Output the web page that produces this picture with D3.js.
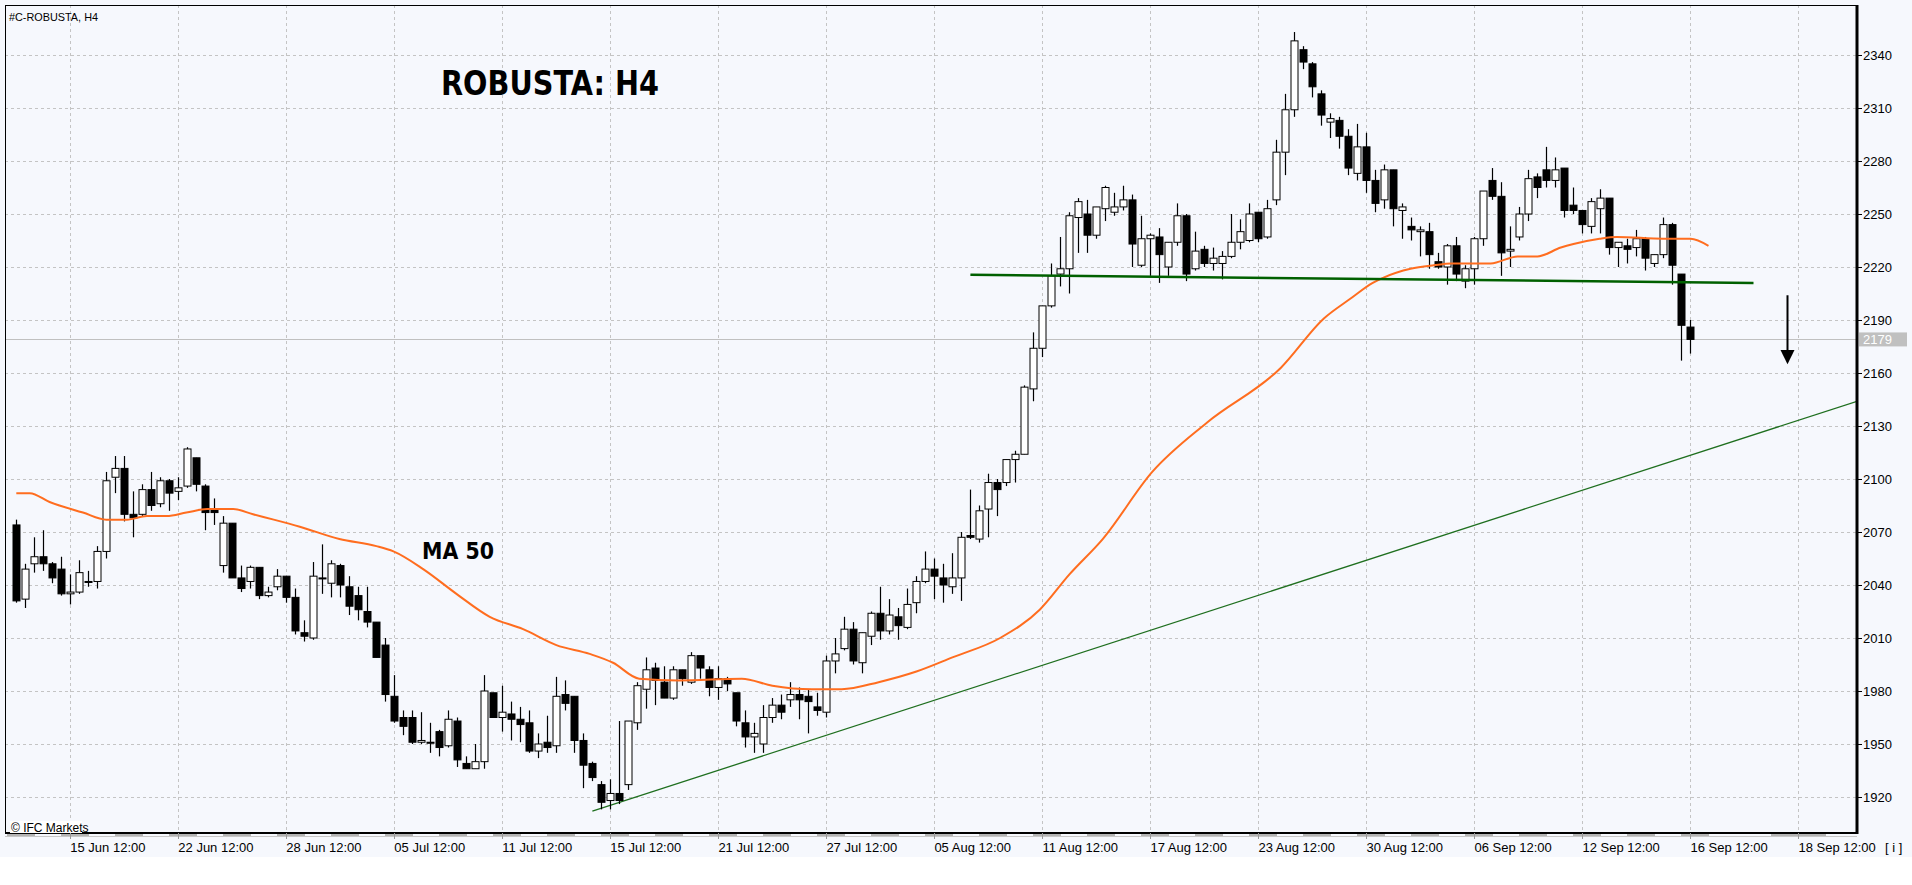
<!DOCTYPE html>
<html><head><meta charset="utf-8">
<script src="https://cdn.jsdelivr.net/npm/d3@7"></script>
<style>body{margin:0;background:#fff}svg{display:block}</style>
</head><body><svg id="c" width="1912" height="885"></svg>
<script>
const opens=[2074,2032,2052,2056,2052,2049,2035,2036,2042,2042,2059,2101,2106,2080,2080,2094,2086,2099,2093,2096,2112,2096,2083,2051,2075,2044,2042,2050,2034,2039,2045,2033,2013,2010,2044,2041,2051,2039,2034,2025,2019,2006,1977,1965,1965,1951,1951,1957,1949,1963,1939,1936,1940,1979,1965,1967,1964,1962,1946,1951,1949,1978,1977,1952,1939,1927,1918,1922,1927,1962,1981,1993,1985,1976,1992,1985,2000,1992,1982,1987,1979,1962,1954,1950,1965,1972,1975,1978,1977,1971,1968,1997,2004,2015,1996,2011,2024,2014,2022,2016,2030,2042,2049,2044,2039,2044,2068,2066,2083,2098,2098,2111,2114,2151,2174,2198,2216,2219,2248,2250,2238,2253,2251,2254,2258,2221,2236,2237,2220,2234,2249,2219,2230,2222,2222,2226,2234,2235,2251,2237,2258,2285,2309,2343,2335,2318,2302,2303,2294,2273,2288,2269,2258,2275,2252,2243,2240,2240,2223,2220,2232,2212,2219,2236,2269,2260,2229,2237,2250,2271,2275,2269,2276,2255,2252,2243,2253,2259,2231,2232,2231,2236,2222,2227,2244,2216,2186];
const highs=[2077,2052,2067,2071,2053,2056,2046,2054,2048,2062,2104,2113,2113,2093,2097,2104,2101,2100,2101,2118,2112,2097,2089,2079,2075,2051,2051,2050,2039,2049,2045,2038,2020,2053,2063,2054,2052,2045,2039,2039,2019,2010,1989,1969,1969,1968,1962,1958,1969,1965,1943,1950,1989,1979,1983,1974,1971,1969,1956,1966,1988,1986,1977,1956,1940,1929,1930,1963,1963,1985,1999,1996,1994,1994,1992,2002,2000,1994,1994,1988,1979,1969,1962,1972,1976,1978,1985,1982,1981,1979,2000,2010,2022,2019,2013,2025,2039,2032,2027,2038,2045,2059,2055,2052,2058,2070,2094,2085,2103,2100,2111,2116,2153,2183,2198,2222,2237,2251,2259,2258,2254,2266,2262,2266,2261,2249,2239,2242,2234,2256,2250,2240,2232,2231,2229,2250,2247,2256,2251,2258,2292,2318,2353,2345,2336,2320,2307,2305,2298,2301,2296,2275,2278,2275,2256,2248,2243,2245,2228,2233,2237,2221,2237,2263,2276,2268,2243,2254,2275,2273,2288,2282,2276,2265,2252,2259,2264,2259,2234,2236,2241,2237,2227,2248,2245,2216,2190];
const lows=[2030,2027,2047,2048,2041,2034,2029,2035,2039,2038,2055,2092,2076,2067,2079,2082,2084,2082,2088,2095,2093,2071,2074,2047,2044,2036,2038,2032,2033,2037,2030,2012,2008,2009,2035,2033,2033,2023,2020,2016,1999,1974,1962,1955,1950,1950,1945,1943,1948,1937,1936,1936,1936,1965,1957,1952,1951,1945,1942,1945,1945,1969,1945,1925,1929,1913,1913,1916,1924,1958,1970,1972,1976,1975,1983,1984,1987,1977,1975,1980,1960,1948,1945,1945,1962,1964,1971,1964,1956,1966,1965,1990,2003,1995,1990,2006,2009,2012,2009,2015,2024,2041,2032,2030,2035,2031,2066,2064,2067,2079,2096,2098,2114,2144,2169,2197,2209,2205,2228,2228,2236,2246,2249,2252,2220,2220,2215,2211,2215,2232,2212,2218,2220,2218,2213,2225,2230,2234,2234,2236,2255,2272,2305,2332,2316,2300,2293,2287,2272,2269,2262,2251,2253,2243,2236,2235,2226,2219,2219,2210,2212,2208,2210,2232,2258,2215,2220,2235,2246,2259,2265,2265,2248,2250,2239,2239,2239,2227,2220,2222,2226,2218,2220,2225,2210,2167,2171];
const closes=[2031,2049,2056,2052,2044,2035,2036,2047,2042,2059,2099,2106,2080,2078,2094,2085,2099,2092,2095,2117,2097,2081,2081,2075,2044,2038,2050,2034,2036,2045,2033,2014,2011,2045,2044,2052,2040,2028,2026,2019,1999,1978,1963,1960,1951,1952,1951,1948,1964,1941,1936,1940,1980,1965,1968,1964,1961,1946,1950,1948,1977,1973,1952,1938,1931,1917,1922,1918,1963,1983,1992,1986,1976,1992,1987,2000,1993,1982,1987,1984,1963,1954,1956,1965,1972,1968,1978,1975,1974,1969,1997,2001,2015,1997,2013,2024,2014,2023,2017,2029,2042,2049,2045,2040,2044,2067,2067,2082,2098,2094,2111,2114,2152,2174,2198,2215,2219,2249,2257,2238,2254,2265,2254,2258,2233,2236,2238,2227,2234,2249,2216,2229,2222,2225,2226,2234,2240,2250,2236,2253,2285,2309,2348,2336,2322,2306,2304,2294,2276,2288,2269,2256,2275,2253,2254,2241,2241,2227,2220,2232,2216,2219,2236,2263,2260,2228,2230,2250,2270,2265,2269,2275,2252,2252,2244,2257,2259,2231,2234,2230,2236,2225,2227,2244,2221,2187,2179];
// MA 50: bar index, value
const maIdx=[0,1.5,3.7,7.4,10,12.3,14.5,16.7,18.9,21.2,22.6,24.1,26.3,28.6,31.5,35.9,40,41.9,45.2,48.9,52.6,56.3,60,63.7,66.3,69.2,73.6,80.6,84,88.4,91.7,95.8,100,104,109.3,113.7,117,120.7,126.2,132.3,140.5,145.3,148.2,150.7,151.9,154.9,157.5,159.4,163.8,166.8,169,171.6,173,175.9,177.8,183,186,188];
const maVal=[2092,2092,2087,2081,2077,2077,2079,2079,2081,2083,2083,2083,2080,2077,2073,2066,2062,2059,2049,2035,2022,2015,2006,2001,1996,1987,1986,1987,1983,1981,1981,1985,1991,1999,2010,2026,2046,2066,2104,2132,2163,2191,2202,2211,2214,2219,2221,2222,2222,2226,2226,2231,2233,2236,2237,2236,2236,2232];
const supportIdx=[106,193], supportVal=[2215.6,2211];
const trendIdx=[64,204.5], trendVal=[1912,2144];
const priceTicks=[1920,1950,1980,2010,2040,2070,2100,2130,2160,2190,2220,2250,2280,2310,2340];
const dateLabels=["15 Jun 12:00","22 Jun 12:00","28 Jun 12:00","05 Jul 12:00","11 Jul 12:00","15 Jul 12:00","21 Jul 12:00","27 Jul 12:00","05 Aug 12:00","11 Aug 12:00","17 Aug 12:00","23 Aug 12:00","30 Aug 12:00","06 Sep 12:00","12 Sep 12:00","16 Sep 12:00","18 Sep 12:00"];
const dateIdx=dateLabels.map((d,i)=>6+12*i);
const lastPrice=2179;

const svg=d3.select("#c");
const L=5,R=1857,T=5,B=833;
const x=d3.scaleLinear().domain([-1.2556,204.5]).range([L,R]);
const y=d3.scaleLinear().domain([1920,2340]).range([797,55]);
const font="'Liberation Sans', Arial, sans-serif";
svg.append("rect").attr("width",1912).attr("height",857).attr("fill","#f6f8fd");
const clip=svg.append("defs").append("clipPath").attr("id","pc").append("rect").attr("x",L).attr("y",T).attr("width",R-L).attr("height",B-T);
// grid
const g=svg.append("g");
g.selectAll(".hg").data(priceTicks).join("line").attr("x1",L).attr("x2",R).attr("y1",d=>Math.round(y(d))+.5).attr("y2",d=>Math.round(y(d))+.5).attr("stroke","#c4c4c4").attr("stroke-dasharray","3,3");
g.selectAll(".vg").data(dateIdx).join("line").attr("x1",d=>Math.round(x(d))+.5).attr("x2",d=>Math.round(x(d))+.5).attr("y1",T).attr("y2",B).attr("stroke","#c4c4c4").attr("stroke-dasharray","3,3");
// current price line
svg.append("line").attr("x1",L).attr("x2",R).attr("y1",Math.round(y(lastPrice))+.5).attr("y2",Math.round(y(lastPrice))+.5).attr("stroke","#c0c0c0");
// day strip
const strip=svg.append("g");
for(let k=0;k<=31;k++){strip.append("rect").attr("x",7+54*k).attr("y",B).attr("width",28).attr("height",3).attr("fill","#b4b4b4");}
strip.append("rect").attr("x",1771).attr("y",B).attr("width",55).attr("height",3).attr("fill","#b4b4b4");
svg.append("line").attr("x1",L).attr("x2",R).attr("y1",B+3.5).attr("y2",B+3.5).attr("stroke","#c8c8c8");
const pg=svg.append("g").attr("clip-path","url(#pc)");
// trend line
const ln=d3.line().x(d=>x(d[0])).y(d=>y(d[1]));
pg.append("path").attr("d",ln(trendIdx.map((d,i)=>[d,trendVal[i]]))).attr("stroke","#1f6f1f").attr("stroke-width",1.3).attr("fill","none");
// candles
const idx=d3.range(opens.length);
const cg=pg.append("g");
cg.selectAll(".w").data(idx).join("line").attr("x1",i=>Math.round(x(i))+.5).attr("x2",i=>Math.round(x(i))+.5).attr("y1",i=>y(highs[i])).attr("y2",i=>y(lows[i])).attr("stroke","#000").attr("stroke-width",1.2);
cg.selectAll(".b").data(idx).join("rect").attr("x",i=>Math.round(x(i))-3).attr("width",7)
 .attr("y",i=>y(Math.max(opens[i],closes[i]))).attr("height",i=>Math.max(1,Math.abs(y(opens[i])-y(closes[i]))))
 .attr("fill",i=>closes[i]>opens[i]?"#fff":"#000").attr("stroke","#000").attr("stroke-width",1);
// MA
pg.append("path").attr("d",d3.line().curve(d3.curveMonotoneX).x(d=>x(d[0])).y(d=>y(d[1]))(maIdx.map((d,i)=>[d,maVal[i]]))).attr("stroke","#ff6d1f").attr("stroke-width",2).attr("fill","none");
// support
pg.append("path").attr("d",ln(supportIdx.map((d,i)=>[d,supportVal[i]]))).attr("stroke","#006000").attr("stroke-width",2.5).attr("fill","none");
// arrow
const ax=Math.round(x(196.7))+.5;
svg.append("line").attr("x1",ax).attr("x2",ax).attr("y1",y(2204)).attr("y2",y(2172)).attr("stroke","#000").attr("stroke-width",2);
svg.append("path").attr("d",`M${ax-7},${y(2173)}L${ax+7},${y(2173)}L${ax},${y(2165)}Z`).attr("fill","#000");
// frame
svg.append("line").attr("x1",L).attr("x2",R).attr("y1",T+.5).attr("y2",T+.5).attr("stroke","#000");
svg.append("line").attr("x1",L+.5).attr("x2",L+.5).attr("y1",T).attr("y2",B).attr("stroke","#000");
svg.append("line").attr("x1",L).attr("x2",R+1).attr("y1",B).attr("y2",B).attr("stroke","#000").attr("stroke-width",2);
svg.append("line").attr("x1",R).attr("x2",R).attr("y1",T).attr("y2",B+1).attr("stroke","#000").attr("stroke-width",3);
// y axis labels
const ya=svg.append("g");
ya.selectAll("line").data(priceTicks).join("line").attr("x1",R).attr("x2",R+5).attr("y1",d=>Math.round(y(d))+.5).attr("y2",d=>Math.round(y(d))+.5).attr("stroke","#000");
ya.selectAll("text").data(priceTicks).join("text").attr("x",R+6).attr("y",d=>y(d)+5).text(d=>d).attr("font-family",font).attr("font-size",13).attr("fill","#000");
svg.append("rect").attr("x",R+2).attr("y",y(lastPrice)-7).attr("width",48).attr("height",14).attr("fill","#c0c0c0");
svg.append("text").attr("x",R+6).attr("y",y(lastPrice)+5).text(lastPrice).attr("font-family",font).attr("font-size",13).attr("fill","#fff");
// x axis labels
const xa=svg.append("g");
xa.selectAll("line").data(dateIdx).join("line").attr("x1",d=>Math.round(x(d))+.5).attr("x2",d=>Math.round(x(d))+.5).attr("y1",B).attr("y2",B+6).attr("stroke","#999");
xa.selectAll("text").data(dateIdx).join("text").attr("x",d=>x(d)).attr("y",852).text((d,i)=>dateLabels[i]).attr("font-family",font).attr("font-size",13).attr("fill","#000");
svg.append("text").attr("x",1885).attr("y",852).text("[ i ]").attr("font-family",font).attr("font-size",13).attr("fill","#000");
// texts
svg.append("text").attr("x",9).attr("y",21).text("#C-ROBUSTA, H4").attr("font-family",font).attr("font-size",11).attr("textLength",89).attr("lengthAdjust","spacingAndGlyphs");
svg.append("rect").attr("x",10).attr("y",821).attr("width",72).attr("height",12).attr("fill","#fff");
svg.append("text").attr("x",11).attr("y",832).text("© IFC Markets").attr("font-family",font).attr("font-size",12).attr("fill","#000");
svg.append("text").attr("x",441).attr("y",95).text("ROBUSTA: H4").attr("font-family","'DejaVu Sans', sans-serif").attr("font-weight","bold").attr("font-size",33).attr("textLength",218).attr("lengthAdjust","spacingAndGlyphs");
svg.append("text").attr("x",422).attr("y",559).text("MA 50").attr("font-family","'DejaVu Sans', sans-serif").attr("font-weight","bold").attr("font-size",23).attr("textLength",72).attr("lengthAdjust","spacingAndGlyphs");
</script></body></html>
